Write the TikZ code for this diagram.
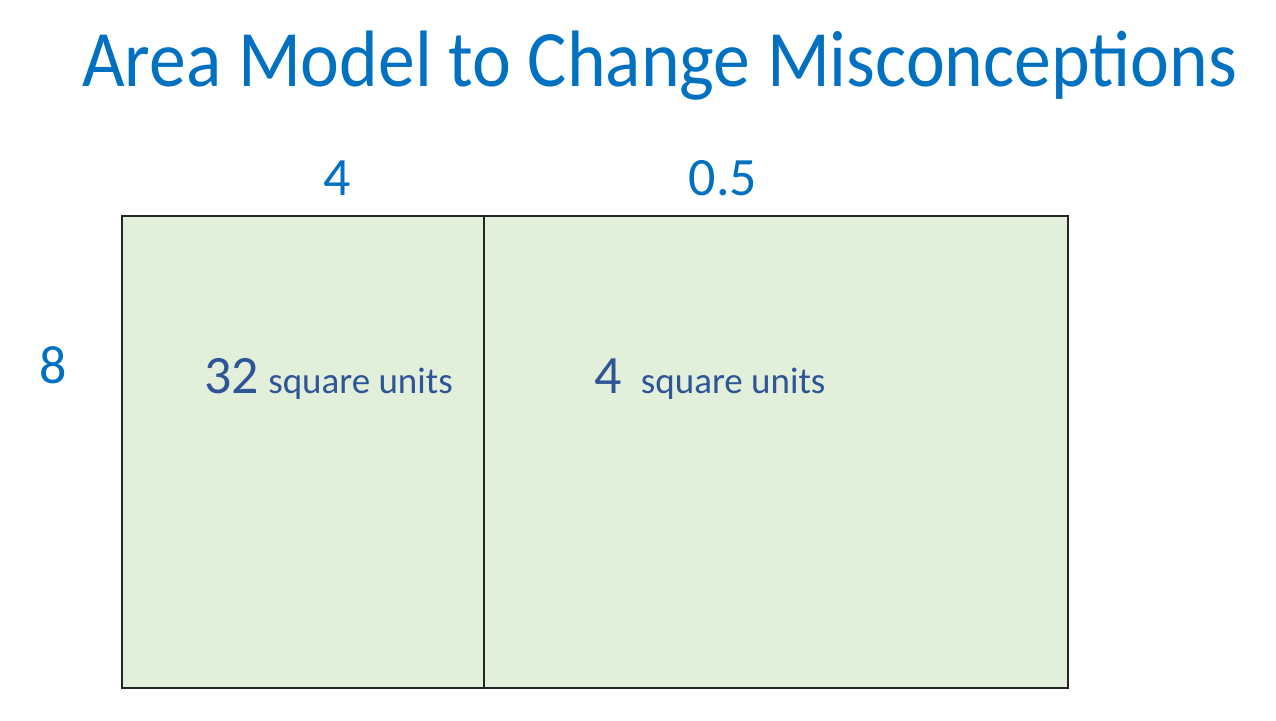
\documentclass[tikz,border=0pt]{standalone}
\usepackage{fontspec}
\setmainfont{Carlito}
\usepackage{tikz}
\usetikzlibrary{positioning}
\definecolor{titleblue}{HTML}{0070C0}
\definecolor{areablue}{HTML}{2F5597}
\definecolor{cellgreen}{HTML}{E2EFDA}
\definecolor{celledge}{HTML}{262626}
\tikzset{
  cell/.style={draw=celledge, fill=cellgreen, line width=1.2pt, inner sep=0pt, outer sep=0pt}, % Flaechen
  sidelabel/.style={text=titleblue, font=\fontsize{54}{60}\selectfont, anchor=base, inner sep=0pt}, % Seitenlaengen
  areanum/.style={text=areablue, font=\fontsize{54}{60}\selectfont, anchor=base west, inner sep=0pt},
  areaunit/.style={text=areablue, font=\fontsize{37}{40}\selectfont, anchor=base west, inner sep=0pt}
}
\begin{document}
\begin{tikzpicture}[x=1pt, y=-1pt]
\useasboundingbox (0,0) rectangle (1276,720);

%Titel
\node[text=titleblue, font=\fontsize{80}{90}\selectfont, anchor=base west, inner sep=0pt] (title) at (82,86)
  {\scalebox{0.92}[1]{Area Model to Change Misconceptions}};

%Flaechen
\node[cell, minimum width=362pt, minimum height=472pt, anchor=north west] (cellL) at (122,216) {};
\node[cell, minimum width=584pt, minimum height=472pt, anchor=north west] (cellR) at (cellL.north east) {};

%Seitenlaengen
\node[sidelabel] (lenL) at (337,195) {4};
\node[sidelabel] (lenR) at (723,195) {0.5};
\node[sidelabel] (height) at (53,383) {8};

%Teilflaechen
\node[areanum] (numL) at (204,393) {32};
\node[areaunit, right=9pt of numL.base east, anchor=base west] (unitL) {square units};
\node[areanum] (numR) at (594,393) {4};
\node[areaunit, right=19pt of numR.base east, anchor=base west] (unitR) {square units};

\end{tikzpicture}
\end{document}
